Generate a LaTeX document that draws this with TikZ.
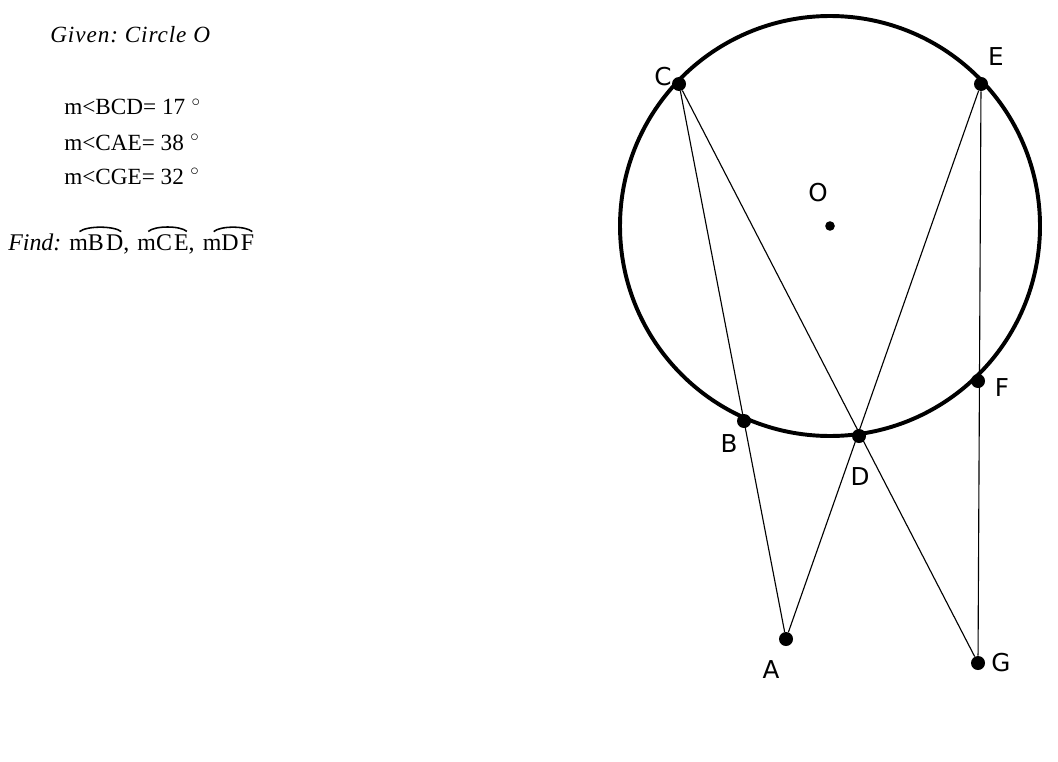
\documentclass[tikz,border=0pt]{standalone}
\usepackage{fontspec}
\usepackage{amsmath}
\setmainfont{Liberation Serif}
\newfontfamily\lblfont{DejaVu Sans}
\newlength\bogenw
\newcommand{\bogen}[1]{{\setbox0=\hbox{#1}\setlength\bogenw{\wd0}\makebox[0pt][l]{\kern-0.26\bogenw\raisebox{\dimexpr\ht0+1.4pt\relax}{\tikz\draw[line width=1.1pt] (0pt,0pt) .. controls (0.2\bogenw,4.2pt) and (0.98\bogenw,4.2pt) .. (1.18\bogenw,0pt);}}\box0}}

\begin{document}
\begin{tikzpicture}[x=0.025cm, y=-0.025cm,
    punkt/.style={circle, fill=black, inner sep=0pt, minimum size=0.35cm},
    mitte/.style={circle, fill=black, inner sep=0pt, minimum size=0.24cm},
    marke/.style={font=\lblfont\fontsize{17.5}{20}\selectfont, inner sep=0pt},
    txt/.style={font=\fontsize{16.5}{19}\selectfont, inner sep=0pt, anchor=base west},
    sehne/.style={line width=0.8pt},
]
\useasboundingbox (0,0) rectangle (1058,762);

\node[txt] (given) at (50,43) {\addfontfeature{LetterSpace=4}\frenchspacing\textit{Given: Circle O}};
\node[txt] (bcd) at (64,115) {m<BCD= 17\;$^{\circ}$};
\node[txt] (cae) at (64,150) {m<CAE= 38\;$^{\circ}$};
\node[txt] (cge) at (64,184) {m<CGE= 32\;$^{\circ}$};
\node[txt, font=\fontsize{17}{19}\selectfont] (find) at (8,250) {\textit{Find:} {\addfontfeature{LetterSpace=9}m\bogen{BD}, m\bogen{CE}, m\bogen{DF}}};

\draw[line width=2.8pt] (830,226) circle (210);

\node[mitte] (O) at (830,226) {};
\node[punkt] (C) at (679,84) {};
\node[punkt] (E) at (981,84) {};
\node[punkt] (B) at (744,421) {};
\node[punkt] (D) at (859,436) {};
\node[punkt] (F) at (978,381) {};
\node[punkt] (A) at (786,639) {};
\node[punkt] (G) at (978,663) {};

\draw[sehne] (C) -- (A);
\draw[sehne] (C) -- (G);
\draw[sehne] (A) -- (E);
\draw[sehne] (E) -- (G);

\node[marke] (lblO) at (818,193) {O};
\node[marke] (lblC) at (663,77) {C};
\node[marke] (lblE) at (996,57) {E};
\node[marke] (lblF) at (1002,388) {F};
\node[marke] (lblB) at (729,444) {B};
\node[marke] (lblD) at (860,477) {D};
\node[marke] (lblA) at (771,670) {A};
\node[marke] (lblG) at (1001,663) {G};

\end{tikzpicture}
\end{document}
